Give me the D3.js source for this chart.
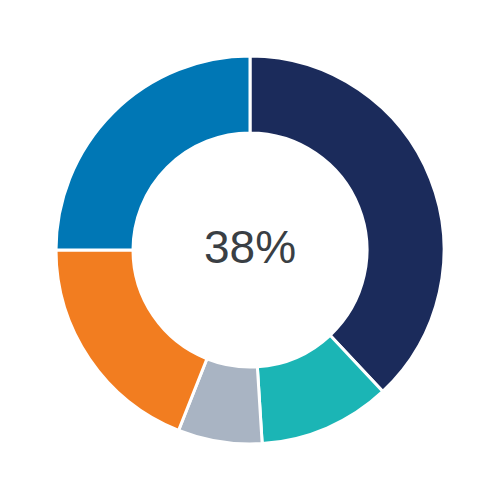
<!DOCTYPE html>
<html><head><meta charset="utf-8">
<script src="https://cdn.jsdelivr.net/npm/d3@7"></script>
<style>body{margin:0;background:#fff}</style>
</head><body>
<svg id="c" width="500" height="500"></svg>
<script>
const categories = ["A","B","C","D","E"];
const values = [38, 11, 7, 19, 25];
const colors = ["#1b2b5b", "#1bb5b5", "#a9b4c3", "#f27d20", "#0077b5"];
const centerLabel = "38%";

const svg = d3.select("#c");
const g = svg.append("g").attr("transform","translate(250,250)");
const pie = d3.pie().sort(null).value(d => d.v);
const arc = d3.arc().innerRadius(117).outerRadius(194);
const data = categories.map((c,i)=>({c, v: values[i], col: colors[i]}));
g.selectAll("path").data(pie(data)).join("path")
  .attr("d", arc).attr("fill", d=>d.data.col)
  .attr("stroke","#fff").attr("stroke-width",3);
g.append("text").attr("text-anchor","middle").attr("dy","0.35em").attr("y",-3)
  .attr("font-family","Liberation Sans, Arial, sans-serif").attr("font-size",46)
  .attr("fill","#3a3f44").text(centerLabel);
</script>
</body></html>
